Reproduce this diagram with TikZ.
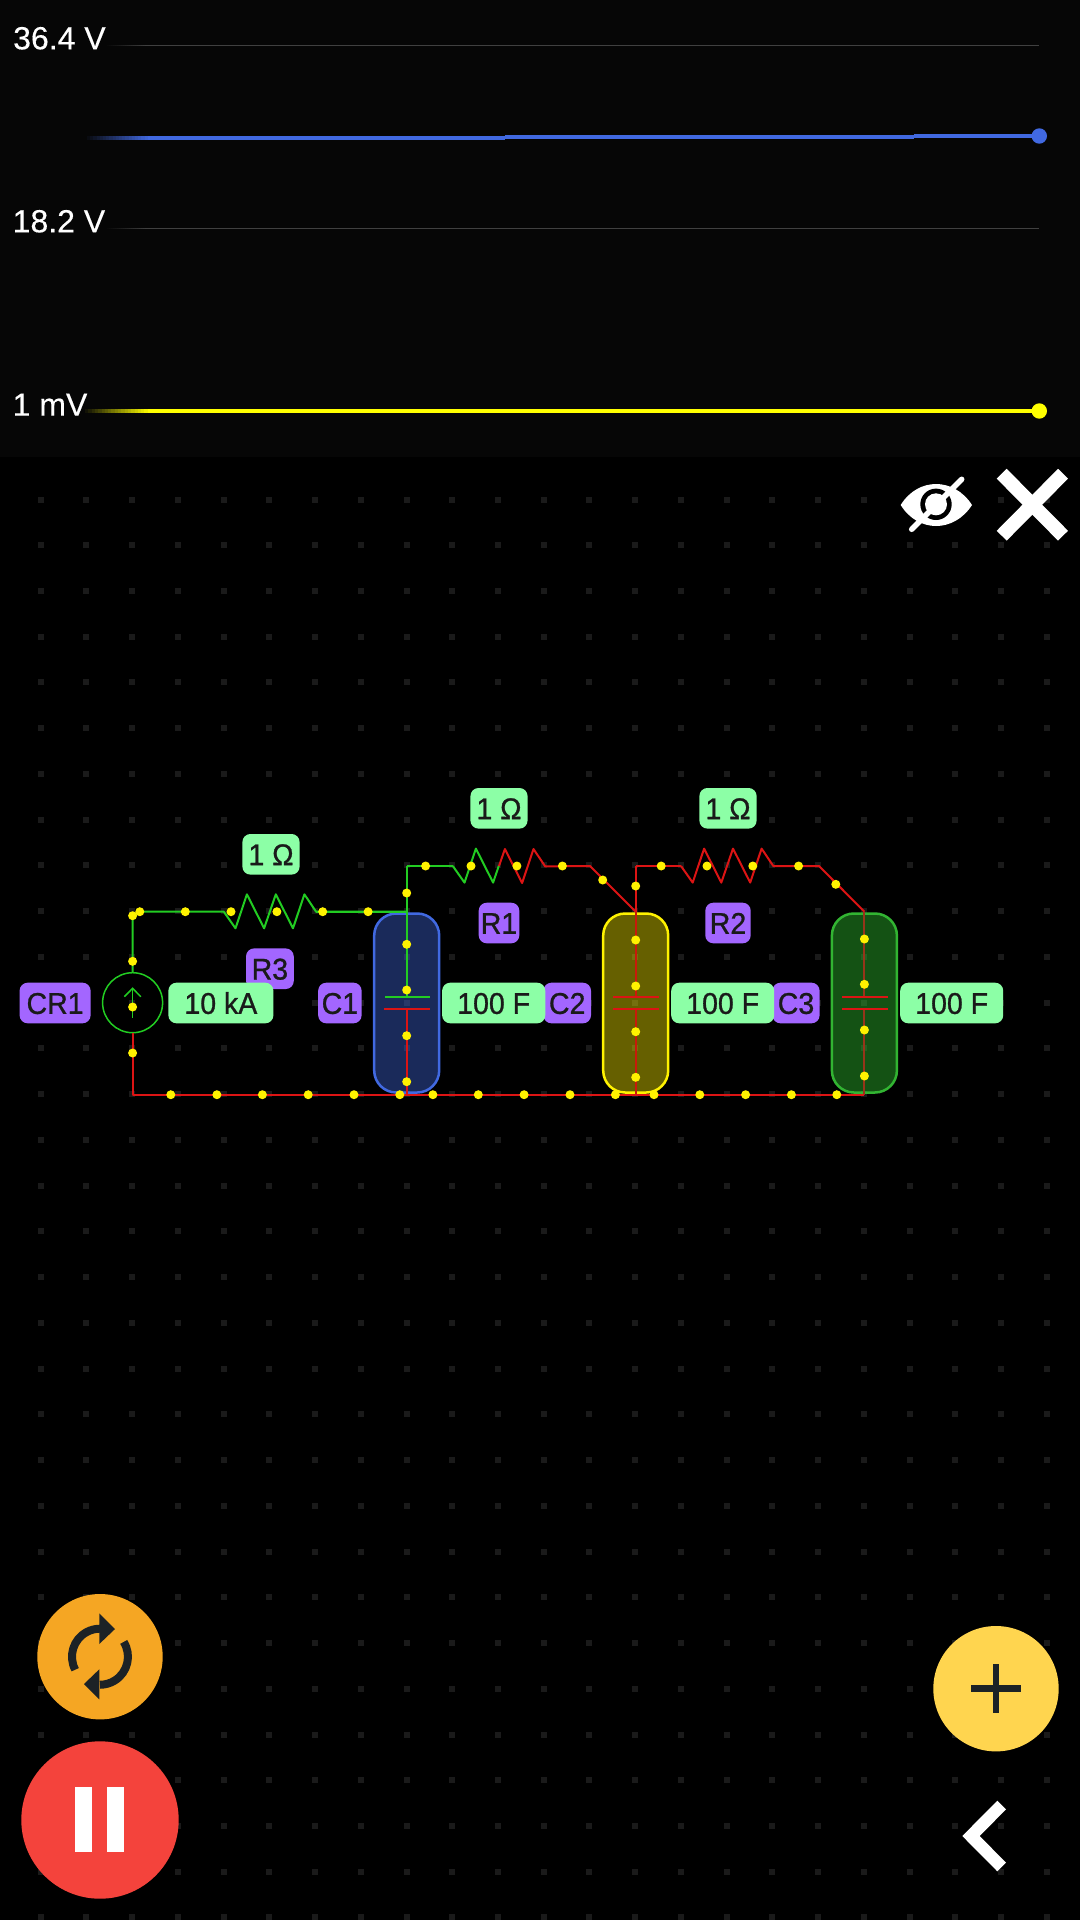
\documentclass[tikz,border=0pt]{standalone}
\usepackage{fontspec}
\setmainfont[FakeBold=0.25]{Liberation Sans}
\newfontfamily\tagfont[FakeStretch=0.95,FakeBold=0.9]{Liberation Sans}
\definecolor{scopebg}{HTML}{060606}
\definecolor{griddot}{HTML}{1A1A1A}
\definecolor{scaleline}{HTML}{404040}
\definecolor{probeblue}{HTML}{4169E1}
\definecolor{probeyellow}{HTML}{FFFF00}
\definecolor{wiregreen}{HTML}{22CC22}
\definecolor{wirered}{HTML}{DC1414}
\definecolor{wiredim}{HTML}{C81A0A}
\definecolor{wirebrown}{HTML}{96351A}
\definecolor{tagpurple}{HTML}{A366FF}
\definecolor{tagmint}{HTML}{8CFFA6}
\definecolor{tagink}{HTML}{1A1A1A}
\definecolor{iconink}{HTML}{1C2226}
\tikzset{
    x=1pt, y=-1pt,
    grn/.style={draw=wiregreen, line width=2pt, line join=round},
    rd/.style={draw=wirered, line width=2pt, line join=round},
    bead/.style={fill=yellow},
    nametag/.style={fill=tagpurple, rounded corners=8pt, inner sep=0pt, minimum height=40.6pt,
        text=tagink, font=\tagfont\fontsize{30}{30}\selectfont, text height=21.7pt, text depth=0pt},
    valuetag/.style={nametag, fill=tagmint},
    capbox/.style={rounded corners=22pt, line width=2.5pt, fill opacity=0.4, inner sep=0pt,
        minimum width=65pt, minimum height=179pt},
    scopetext/.style={anchor=base west, inner sep=0pt, text=white, font=\fontsize{32}{32}\selectfont},
    btn/.style={circle, inner sep=0pt},
}
\newcommand{\zigfirst}{-- ++(11.7,16.6) -- ++(11.4,-34) -- ++(17.2,34)}
\newcommand{\zigsecond}{-- ++(11.7,-34) -- ++(17.2,34) -- ++(11.4,-34) -- ++(11.7,17.4)}
\begin{document}
\begin{tikzpicture}
    \useasboundingbox (0, 0) rectangle (1080, 1920);
    \fill[black] (0, 0) rectangle (1080, 1920);
    \foreach \i in {0,...,22}
        \foreach \j in {0,...,31}
            \fill[griddot] ({37.6+45.74*\i}, {496.5+45.74*\j}) rectangle ++(6, 6);

    \fill[scopebg] (0, 0) rectangle (1080, 457);
    \foreach \k in {0,...,19} {
        \pgfmathtruncatemacro{\pct}{5*\k+5}
        \fill[scaleline!\pct!scopebg] ({107+2*\k}, 44.8) rectangle ++(2, 1);
        \fill[scaleline!\pct!scopebg] ({107+2*\k}, 227.8) rectangle ++(2, 1);
        \fill[probeblue!\pct!scopebg] ({87+3.2*\k}, 136) rectangle ++(3.2, 4);
        \fill[probeyellow!\pct!scopebg] ({85+3.3*\k}, 409) rectangle ++(3.3, 4);
    }
    \fill[scaleline] (147, 44.8) rectangle (1039, 45.8);
    \fill[scaleline] (147, 227.8) rectangle (1039, 228.8);
    \fill[probeblue] (151, 136) rectangle (505, 140);
    \fill[probeblue] (505, 135) rectangle (914, 139);
    \fill[probeblue] (914, 134) rectangle (1039, 138);
    \fill[probeblue] (1039.3, 136) circle[radius=7.7];
    \fill[probeyellow] (151, 409) rectangle (1039, 413);
    \fill[probeyellow] (1039.3, 411) circle[radius=7.7];
    \node[scopetext] (vmax) at(13, 49.3) {36.4 V};
    \node[scopetext] (vmid) at(12.5, 232.3) {18.2 V};
    \node[scopetext] (vmin) at(12.5, 415.7) {1 mV};

    \node[btn, draw=wiregreen, line width=1.5pt, minimum size=60pt] (src) at(132.6, 1002.7) {};
    \coordinate (srcbend) at(132.6, 915.7);
    \coordinate (r3a) at(223.8, 911.7);
    \coordinate (r3b) at(316.1, 911.7);
    \coordinate (c1top) at(406.7, 911.7);
    \coordinate (c1bend) at(406.7, 866);
    \coordinate (r1a) at(452.8, 866);
    \coordinate (r1mid) at(499, 866);
    \coordinate (r1c) at(590, 866);
    \coordinate (c2top) at(635.7, 911.7);
    \coordinate (c2bend) at(635.7, 866);
    \coordinate (r2a) at(681, 866);
    \coordinate (r2c) at(819, 866);
    \coordinate (c3top) at(864.4, 911.7);
    \coordinate (c1p) at(406.7, 997);
    \coordinate (c1n) at(406.7, 1008.7);
    \coordinate (c2p) at(635.7, 997);
    \coordinate (c2n) at(635.7, 1008.7);
    \coordinate (c3p) at(864.4, 997);
    \coordinate (c3n) at(864.4, 1008.7);
    \coordinate (railleft) at(132.6, 1094.7);
    \coordinate (rail1) at(406.7, 1094.7);
    \coordinate (rail2) at(635.7, 1094.7);
    \coordinate (railright) at(864.4, 1094.7);

    \draw[grn] (src.north) -- (srcbend) -- (139.5, 911.7) -- (r3a) \zigfirst \zigsecond -- (c1top);
    \draw[grn] (r1a) -- ++(11.7,16.6) -- ++(11.4,-34) -- ++(17.2,34) -- ++(5.8,-17);
    \draw[rd] (r1mid) -- ++(5.9,-17) -- ++(17.2,34) -- ++(11.4,-34) -- ++(11.7,17.4) -- (r1c) -- (c2top);
    \draw[rd] (r2a) \zigfirst \zigsecond -- (r2c) -- (c3top);
    \draw[rd] (c2bend) -- (r2a);
    \draw[rd] (c2bend) -- (c2top);

    \node[capbox, draw=probeblue, fill=probeblue] (c1box) at(406.7, 1003) {};
    \node[capbox, draw=yellow, fill=yellow] (c2box) at(635.7, 1003) {};
    \node[capbox, draw={rgb,255:red,50;green,180;blue,50}, fill={rgb,255:red,50;green,205;blue,50}] (c3box) at(864.4, 1003) {};

    \draw[grn] (r3b) -- (c1top);
    \draw[grn] (c1bend) -- (c1p);
    \draw[grn] (c1bend) -- (r1a);
    \draw[rd] (c1n) -- (rail1);
    \draw[rd, draw=wiredim] (c2top) -- (c2p);
    \draw[rd, draw=wiredim] (c2n) -- (rail2);
    \draw[rd, draw=wirebrown] (c3top) -- (c3p);
    \draw[rd, draw=wirebrown] (c3n) -- (railright);
    \draw[rd] (src.south) -- (railleft) -- (railright);
    \draw[grn] (385, 997) -- (430, 997);
    \draw[rd] (384, 1008.7) -- (430, 1008.7);
    \draw[rd] (613, 997) -- (659, 997);
    \draw[rd] (613, 1008.7) -- (659, 1008.7);
    \draw[rd] (842, 997) -- (888, 997);
    \draw[rd] (842, 1008.7) -- (888, 1008.7);
    \draw[draw=wiregreen, line width=1.5pt] (132.6, 1017.7) -- (132.6, 988.3);
    \draw[draw=wiregreen, line width=1.5pt] (124.3, 996.7) -- (132.6, 988.3) -- (140.8, 996.7);

    \foreach \px in {139.8, 185.3, 231, 276.9, 322.7, 368.1}
        \fill[bead] (\px, 911.7) circle[radius=4.5];
    \foreach \py in {915.7, 961.3, 1007, 1053}
        \fill[bead] (132.6, \py) circle[radius=4.5];
    \foreach \py in {893, 944.3, 990, 1035.7, 1081.7}
        \fill[bead] (406.7, \py) circle[radius=4.5];
    \foreach \py in {886, 940, 986, 1031.7, 1077.3}
        \fill[bead] (635.7, \py) circle[radius=4.5];
    \foreach \py in {939, 984.3, 1030, 1076}
        \fill[bead] (864.4, \py) circle[radius=4.5];
    \foreach \px in {425.6, 471, 516.9, 562.4, 661.2, 707, 752.8, 798.6}
        \fill[bead] (\px, 866) circle[radius=4.5];
    \foreach \px in {170.8, 216.9, 262.4, 308.2, 354, 399.8, 432.9, 478.3, 524.1, 570, 615.4, 654, 699.8, 745.6, 791.4, 836.8}
        \fill[bead] (\px, 1094.7) circle[radius=4.5];
    \fill[bead] (602.7, 880) circle[radius=4.5];
    \fill[bead] (835.8, 884.3) circle[radius=4.5];

    \node[nametag, minimum width=71pt] (cr1) at(55.1, 1003) {CR1};
    \node[nametag, minimum width=47.7pt] (r3) at(269.9, 968.7) {R3};
    \node[nametag, minimum width=43.4pt] (c1) at(339.9, 1003) {C1};
    \node[nametag, minimum width=47.6pt] (c2) at(567.2, 1003) {C2};
    \node[nametag, minimum width=47.2pt] (c3) at(796, 1003) {C3};
    \node[nametag, minimum width=40.6pt] (r1) at(499, 923) {R1};
    \node[nametag, minimum width=45.4pt] (r2) at(728, 923) {R2};
    \node[valuetag, minimum width=105pt] (src10k) at(220.9, 1003) {10 kA};
    \node[valuetag, minimum width=57.2pt] (r3val) at(271, 854.3) {1 Ω};
    \node[valuetag, minimum width=57.1pt] (r1val) at(499, 808.3) {1 Ω};
    \node[valuetag, minimum width=57.2pt] (r2val) at(728, 808.3) {1 Ω};
    \node[valuetag, minimum width=103.1pt] (c1val) at(493.7, 1003) {100 F};
    \node[valuetag, minimum width=103pt] (c2val) at(722.7, 1003) {100 F};
    \node[valuetag, minimum width=103pt] (c3val) at(951.7, 1003) {100 F};

    \fill[white] (900.7, 505) .. controls (918, 477) and (954, 477) .. (972, 505)
        .. controls (954, 533) and (918, 533) .. (900.7, 505);
    \fill[black] (936, 504.3) circle[radius=15.7];
    \fill[white] (936, 504.3) circle[radius=11];
    \draw[white, line width=5.5pt, line cap=round] (911.7, 529.3) -- (961.7, 479.3);
    \draw[white, line width=14pt] (1001.7, 473.7) -- (1063, 535.7);
    \draw[white, line width=14pt] (1063, 473.7) -- (1001.7, 535.7);

    \node[btn, fill={rgb,255:red,245;green,166;blue,35}, minimum size=125.4pt] (syncbtn) at(100, 1656.7) {};
    \draw[iconink, line width=8pt] (75.2, 1669.7) arc[start angle=207.7, end angle=90, radius=28pt];
    \fill[iconink] (99.3, 1613.3) -- (115, 1629) -- (99.3, 1644) -- cycle;
    \draw[iconink, line width=8pt] (123.7, 1641.9) arc[start angle=32, end angle=-90, radius=28pt];
    \fill[iconink] (99.3, 1669.3) -- (84, 1684) -- (99.3, 1699.3) -- cycle;

    \node[btn, fill={rgb,255:red,244;green,67;blue,60}, minimum size=157.4pt] (pausebtn) at(100, 1820) {};
    \fill[white] (75, 1786.7) rectangle (91.7, 1852.3);
    \fill[white] (107.3, 1786.7) rectangle (124, 1852.3);

    \node[btn, fill={rgb,255:red,255;green,213;blue,79}, minimum size=125.4pt] (addbtn) at(996, 1688.7) {};
    \fill[iconink] (971.3, 1685.4) rectangle (1020.7, 1692);
    \fill[iconink] (992.7, 1664) rectangle (999.3, 1713.3);

    \fill[white] (997.3, 1800.7) -- (1006, 1809.3) -- (979.7, 1836) -- (1006, 1862.7)
        -- (997.3, 1871.3) -- (962.3, 1836) -- cycle;
\end{tikzpicture}
\end{document}
